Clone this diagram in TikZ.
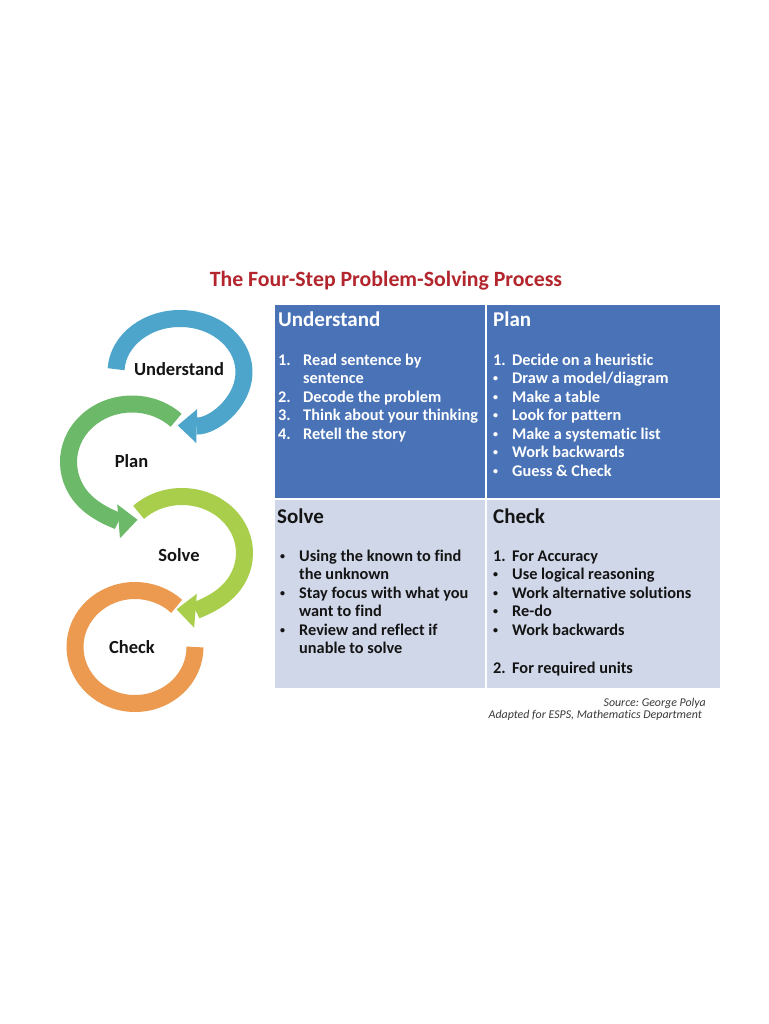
\documentclass[tikz,border=0pt]{standalone}
\usepackage{fontspec}
\setmainfont{Carlito}[Ligatures=NoCommon]
\usetikzlibrary{arrows.meta}
\definecolor{ringblue}{HTML}{4EA5CB}
\definecolor{ringgreen}{HTML}{6CBA69}
\definecolor{ringlime}{HTML}{A8CE4C}
\definecolor{ringorange}{HTML}{EC9A50}
\definecolor{cellblue}{HTML}{4A73B7}
\definecolor{celllav}{HTML}{D0D7E9}
\definecolor{titlered}{HTML}{B3262E}
\definecolor{srcgray}{HTML}{3A3A3A}
\definecolor{darktext}{HTML}{141414}
\newcommand{\smallbul}{{\fontsize{10}{10}\selectfont\raisebox{1.6pt}{•}}}
\frenchspacing
\begin{document}
\begin{tikzpicture}[x=1pt,y=-1pt,
  ring/.style={line width=17pt},
  ringtip/.style={-{Triangle[length=19pt,width=34pt,line width=0pt]}},
  cell/.style={draw=white,line width=2pt,inner sep=0pt,anchor=north west},
  titlestyle/.style={font=\bfseries\fontsize{21.8}{26}\selectfont,text=titlered,inner sep=0pt,anchor=base},
  headtext/.style={font=\bfseries\fontsize{21}{25}\selectfont,inner sep=0pt,anchor=base west},
  itemtext/.style={font=\bfseries\fontsize{16.3}{19}\selectfont,inner sep=0pt,anchor=base west},
  lbl/.style={font=\bfseries\fontsize{18.5}{22}\selectfont,text=darktext,inner sep=0pt,anchor=base},
  src/.style={font=\itshape\fontsize{11.9}{13}\selectfont,text=srcgray,inner sep=0pt,anchor=base east}]
\useasboundingbox[fill=white] (0,0) rectangle (768,1024);

% title
\node[titlestyle] (title) at (386,286) {The Four-Step Problem-Solving Process};

% table cells
\node[cell,fill=cellblue,minimum width=212pt,minimum height=194.5pt] (cu) at (273,303) {};
\node[cell,fill=cellblue,minimum width=235pt,minimum height=194.5pt] (cp) at (485,303) {};
\node[cell,fill=celllav,minimum width=212pt,minimum height=190.5pt] (cs) at (273,497.5) {};
\node[cell,fill=celllav,minimum width=235pt,minimum height=190.5pt] (cc) at (485,497.5) {};

% headers
\node[headtext,text=white] (hu) at (278,326) {Understand};
\node[headtext,text=white] (hp) at (493,326) {Plan};
\node[headtext,text=darktext] (hs) at (277,523.5) {Solve};
\node[headtext,text=darktext] (hc) at (493,523.5) {Check};

% Understand items
\foreach \yy/\mk/\txt [count=\i] in {365/1./Read sentence by, 383.5//sentence, 402/2./Decode the problem, 420.5/3./Think about your thinking, 439/4./Retell the story}
{
  \node[itemtext,text=white] (um\i) at (278,\yy) {\mk};
  \node[itemtext,text=white] (ut\i) at (303,\yy) {\txt};
}

% Plan items
\foreach \yy/\mk/\txt [count=\i] in {365/1./Decide on a heuristic, 383.5/\smallbul/{Draw a model/diagram}, 402/\smallbul/Make a table, 420.5/\smallbul/Look for pattern, 439/\smallbul/Make a systematic list, 457.5/\smallbul/Work backwards, 476/\smallbul/{Guess \& Check}}
{
  \node[itemtext,text=white] (pm\i) at (493,\yy) {\mk};
  \node[itemtext,text=white] (pt\i) at (512,\yy) {\txt};
}

% Solve items
\foreach \yy/\mk/\txt [count=\i] in {561/\smallbul/Using the known to find, 579.5//the unknown, 598/\smallbul/Stay focus with what you, 616.5//want to find, 635/\smallbul/Review and reflect if, 653.5//unable to solve}
{
  \node[itemtext,text=darktext] (sm\i) at (280,\yy) {\mk};
  \node[itemtext,text=darktext] (st\i) at (299,\yy) {\txt};
}

% Check items
\foreach \yy/\mk/\txt [count=\i] in {561/1./For Accuracy, 579.5/\smallbul/Use logical reasoning, 598/\smallbul/Work alternative solutions, 616.5/\smallbul/Re-do, 635/\smallbul/Work backwards, 673/2./For required units}
{
  \node[itemtext,text=darktext] (km\i) at (493,\yy) {\mk};
  \node[itemtext,text=darktext] (kt\i) at (512,\yy) {\txt};
}

% source
\node[src] (src1) at (706,706) {Source: George Polya};
\node[src] (src2) at (702,718) {Adapted for ESPS, Mathematics Department};

% rings
\draw[ring,ringorange] (135,647) ++(0:60 and 56.5)
  arc[start angle=0,end angle=314,x radius=60,y radius=56.5];
\draw[ring,ringlime,ringtip] (182,553) ++(226:62.5 and 56.5)
  arc[start angle=226,end angle=455,x radius=62.5,y radius=56.5];
\draw[ring,ringgreen,ringtip] (132,462) ++(314:63.5 and 58)
  arc[start angle=314,end angle=85,x radius=63.5,y radius=58];
\draw[ring,ringblue,ringtip] (180,372) ++(183:64 and 53.5)
  arc[start angle=183,end angle=452,x radius=64,y radius=53.5];

% ring labels
\node[lbl] (lu) at (179,375) {Understand};
\node[lbl] (lp) at (131.5,467) {Plan};
\node[lbl] (ls) at (179,561.5) {Solve};
\node[lbl] (lc) at (132,653) {Check};
\end{tikzpicture}
\end{document}
